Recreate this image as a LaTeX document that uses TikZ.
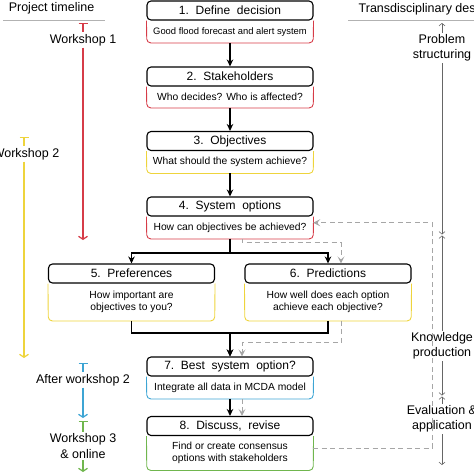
\documentclass[tikz,border=0pt]{standalone}
\usepackage{fontspec}
\setmainfont{Liberation Sans}
\usepackage{tikz}
\usetikzlibrary{arrows.meta, positioning}

\definecolor{stepred}{RGB}{214,60,72}
\definecolor{stepyellow}{RGB}{238,212,60}
\definecolor{stepblue}{RGB}{62,165,212}
\definecolor{stepgreen}{RGB}{112,182,78}

\begin{document}
\begin{tikzpicture}[x=1pt, y=-1pt,
    titlebox/.style={draw=black, line width=1.1pt, rounded corners=4pt, fill=white, minimum width=166pt, minimum height=19pt, inner sep=0pt, font=\fontsize{12}{14}\selectfont},
    subbox/.style={minimum width=166pt, inner sep=0pt, align=center, font=\fontsize{10.3}{12}\selectfont},
    subline/.style={line width=0.9pt, rounded corners=4pt},
    flow/.style={line width=1.4pt, -{Stealth[length=7pt, width=6.5pt]}},
    feed/.style={gray!70, line width=1pt, dash pattern=on 5pt off 3.5pt, -{Stealth[length=7pt, width=7pt, inset=3pt]}},
    side/.style={font=\fontsize{12.5}{15.5}\selectfont, inner sep=1.5pt, align=center},
    tl/.style={line width=1.2pt, -{Straight Barb[length=3pt, width=9pt]}},
    tlbar/.style={line width=1.2pt, {Bar[width=9pt]}-},
    phase/.style={gray!80!black, line width=0.6pt, -{Straight Barb[length=2.5pt, width=6pt]}}
  ]
    \useasboundingbox (0,0) rectangle (474,474);

    % decision steps
    \node[titlebox] (t1) at (230,10.5) {1.~~Define~~decision};
    \node[subbox, minimum height=22pt, below=0pt of t1, font=\fontsize{9.4}{11}\selectfont] (s1) {Good flood forecast and alert system};
    \draw[subline, stepred] (t1.south west) -- (s1.south west) -- (s1.south east) -- (t1.south east);

    \node[titlebox] (t2) at (230,76.5) {2.~~Stakeholders};
    \node[subbox, minimum height=21pt, below=0pt of t2] (s2) {Who decides? Who is affected?};
    \draw[subline, stepred] (t2.south west) -- (s2.south west) -- (s2.south east) -- (t2.south east);

    \node[titlebox] (t3) at (230,141) {3.~~Objectives};
    \node[subbox, minimum height=22pt, below=0pt of t3] (s3) {What should the system achieve?};
    \draw[subline, stepyellow] (t3.south west) -- (s3.south west) -- (s3.south east) -- (t3.south east);

    \node[titlebox] (t4) at (230,206.5) {4.~~System~~options};
    \node[subbox, minimum height=22pt, below=0pt of t4] (s4) {How can objectives be achieved?};
    \draw[subline, stepred] (t4.south west) -- (s4.south west) -- (s4.south east) -- (t4.south east);

    \node[titlebox] (t5) at (131.5,273.5) {5.~~Preferences};
    \node[subbox, minimum height=37pt, below=0pt of t5] (s5) {How important are\\objectives to you?};
    \draw[subline, stepyellow] (t5.south west) -- (s5.south west) -- (s5.south east) -- (t5.south east);

    \node[titlebox] (t6) at (328,273.5) {6.~~Predictions};
    \node[subbox, minimum height=37pt, below=0pt of t6] (s6) {How well does each option\\achieve each objective?};
    \draw[subline, stepyellow] (t6.south west) -- (s6.south west) -- (s6.south east) -- (t6.south east);

    \node[titlebox] (t7) at (230,366.5) {7.~~Best~~system~~option?};
    \node[subbox, minimum height=22pt, below=0pt of t7] (s7) {Integrate all data in MCDA model};
    \draw[subline, stepblue] (t7.south west) -- (s7.south west) -- (s7.south east) -- (t7.south east);

    \node[titlebox] (t8) at (230,426) {8.~~Discuss,~~revise};
    \node[subbox, minimum height=34pt, below=0pt of t8] (s8) {Find or create consensus\\options with stakeholders};
    \draw[subline, stepgreen] (t8.south west) -- (s8.south west) -- (s8.south east) -- (t8.south east);

    % main flow
    \draw[flow] (s1.south) -- (t2.north);
    \draw[flow] (s2.south) -- (t3.north);
    \draw[flow] (s3.south) -- (t4.north);
    \draw[flow] (s4.south) -- ++(0,14) -| (t5.north);
    \draw[flow] (s4.south) -- ++(0,14) -| (t6.north);
    \draw[flow] (s5.south) -- ++(0,12) -| (t7.north);
    \draw[flow] (s6.south) -- ++(0,12) -| (t7.north);
    \draw[flow] (s7.south) -- (t8.north);

    % dashed feedback
    \draw[feed] ([xshift=12pt]s4.south) -- ++(0,4) -| ([xshift=13pt]t6.north);
    \draw[feed] ([xshift=13pt]s6.south) -- ++(0,22) -| ([xshift=12pt]t7.north);
    \draw[feed] ([xshift=12pt]s7.south) -- ([xshift=12pt]t8.north);
    \draw[feed] ([yshift=5pt]s8.east) -- ++(119,0) |- ([yshift=5pt]s4.east);

    % project timeline
    \node[side] (ptl) at (51.5,8) {Project timeline};
    \draw[gray!60, line width=1pt] (3,20) -- (105,20);

    \node[side] (ws1) at (83,40) {Workshop 1};
    \draw[tlbar, stepred] (83,23) -- (ws1.north);
    \draw[tl, stepred] (ws1.south) -- (83,240);

    \node[side] (ws2) at (26,154) {Workshop 2};
    \draw[tlbar, stepyellow] (24,137) -- ([xshift=-2pt]ws2.north);
    \draw[tl, stepyellow] ([xshift=-2pt]ws2.south) -- (24,358);

    \node[side] (aws2) at (83,380) {After workshop 2};
    \draw[tlbar, stepblue] (83,363) -- (aws2.north);
    \draw[tl, stepblue] (aws2.south) -- (83,418);

    \node[side] (ws3) at (83,446) {Workshop 3\\\& online};
    \draw[tlbar, stepgreen] (83,421) -- (ws3.north);
    \draw[tl, stepgreen] (ws3.south) -- (83,472);

    % design phases
    \node[side, anchor=west] (tdh) at (357,9) {Transdisciplinary des};
    \draw[gray!60, line width=1pt] (348,20) -- (474,20);

    \node[side] (ps) at (442,48) {Problem\\structuring};
    \draw[phase] (ps.north) -- (442,23);
    \draw[phase] (ps.south) -- (442,234.5);

    \node[side] (kp) at (442,346) {Knowledge\\production};
    \draw[phase] (kp.north) -- (442,235.5);
    \draw[phase] (kp.south) -- (442,395.5);

    \node[side] (ea) at (442,419) {Evaluation \&\\application};
    \draw[phase] (ea.north) -- (442,396.5);
    \draw[phase] (ea.south) -- (442,465);
\end{tikzpicture}
\end{document}
